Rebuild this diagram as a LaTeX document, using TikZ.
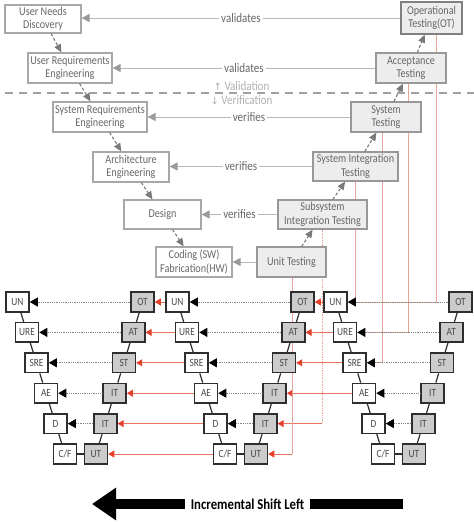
\documentclass[tikz,border=0pt]{standalone}
\usepackage{fontspec}
\setmainfont{Carlito}[FakeStretch=0.85]
\newfontfamily\dejavu{DejaVu Sans}
\usetikzlibrary{arrows.meta,calc,backgrounds}
\definecolor{tgray}{HTML}{686868}
\definecolor{devborder}{HTML}{A8A8A8}
\definecolor{testfill}{HTML}{EDEDED}
\definecolor{testborder}{HTML}{989898}
\definecolor{lgray}{HTML}{B8B8B8}
\definecolor{agray}{HTML}{9A9A9A}
\definecolor{dgray}{HTML}{7A7A7A}
\definecolor{vlabel}{HTML}{B0B0B0}
\definecolor{sepgray}{HTML}{A0A0A0}
\definecolor{darkc}{HTML}{2E2E2E}
\definecolor{darktext}{HTML}{4A4A4A}
\definecolor{stestfill}{HTML}{CCCCCC}
\definecolor{midgray}{HTML}{858585}
\definecolor{redline}{HTML}{E8735F}
\definecolor{redtip}{HTML}{E5402A}
\definecolor{redv}{HTML}{E8A496}
\begin{document}
\begin{tikzpicture}[x=1pt,y=-1pt,
  devbox/.style={draw=devborder, fill=white, line width=1.2pt, text=tgray, align=center,
    inner sep=0pt, font=\fontsize{12}{13.3}\selectfont},
  testbox/.style={devbox, fill=testfill, draw=testborder},
  sbox/.style={draw=darkc, line width=1.6pt, fill=white, minimum width=23pt, minimum height=19.5pt,
    inner sep=0pt, text=darktext, font=\fontsize{11}{11}\selectfont},
  stest/.style={sbox, fill=stestfill},
  toparr/.style={draw=lgray, line width=0.9pt, -{Triangle[length=8pt,width=8pt,color=agray]}},
  lbl/.style={fill=white, text=tgray, font=\fontsize{13}{14}\selectfont, inner sep=2pt},
  diag/.style={draw=dgray, line width=1.1pt, dash pattern=on 3pt off 2pt, -{Triangle[length=8pt,width=7pt,color=dgray]}},
  ingray/.style={draw=midgray, line width=0.8pt, densely dotted, -{Triangle[length=8pt,width=9pt,color=black]}},
  redarr/.style={draw=redline, line width=0.8pt, -{Triangle[length=6pt,width=7pt,color=redtip]}},
  redvl/.style={draw=redv, line width=0.75pt},
  colline/.style={draw=darkc, line width=1.2pt},
  sepline/.style={draw=sepgray, line width=1.3pt, dash pattern=on 8pt off 6pt},
  vtext/.style={text=vlabel, font=\fontsize{13}{14}\selectfont, inner sep=0pt}
]
\useasboundingbox (0,0) rectangle (474,523);

% ---------- top V ----------
\node[devbox, minimum width=76pt, minimum height=28pt] (und) at (43,19) {User Needs\\Discovery};
\node[devbox, minimum width=84pt, minimum height=30pt] (ure) at (70,68) {User Requirements\\Engineering};
\node[devbox, minimum width=94pt, minimum height=30pt] (sre) at (100,117) {System Requirements\\Engineering};
\node[devbox, minimum width=76pt, minimum height=30pt] (arch) at (131,167) {Architecture\\Engineering};
\node[devbox, minimum width=77pt, minimum height=29pt] (des) at (162.5,214.5) {Design};
\node[devbox, minimum width=76pt, minimum height=30pt] (cod) at (194,262) {Coding (SW)\\Fabrication(HW)};

\node[testbox, draw=gray, minimum width=61pt, minimum height=32pt] (opt) at (431.5,18) {Operational\\Testing(OT)};
\node[testbox, minimum width=70pt, minimum height=30pt] (acc) at (411,68) {Acceptance\\Testing};
\node[testbox, minimum width=70pt, minimum height=30pt] (syst) at (386,117) {System\\Testing};
\node[testbox, minimum width=85pt, minimum height=29pt] (sit) at (355.5,166.5) {System Integration\\Testing};
\node[testbox, minimum width=89pt, minimum height=29pt] (ssit) at (322.5,214.5) {Subsystem\\Integration Testing};
\node[testbox, minimum width=69pt, minimum height=30pt] (unit) at (291.5,262) {Unit Testing};

\draw[diag] (und) -- (ure);
\draw[diag] (ure) -- (sre);
\draw[diag] (sre) -- (arch);
\draw[diag] (arch) -- (des);
\draw[diag] (des) -- (cod);
\draw[diag] (unit) -- (ssit);
\draw[diag] (ssit) -- (sit);
\draw[diag] (sit) -- (syst);
\draw[diag] (syst) -- (acc);
\draw[diag] (acc) -- (opt);

\draw[toparr] (opt.west) -- node[lbl]{validates} (opt.west -| und.east);
\draw[toparr] (acc.west) -- node[lbl]{validates} (acc.west -| ure.east);
\draw[toparr] (syst.west) -- node[lbl]{verifies} (syst.west -| sre.east);
\draw[toparr] (sit.west) -- node[lbl]{verifies} (sit.west -| arch.east);
\draw[toparr] (ssit.west) -- node[lbl]{verifies} (ssit.west -| des.east);
\draw[toparr] (unit.west) -- (unit.west -| cod.east);

\coordinate (sepL) at (5,93);
\coordinate (sepR) at (474,93);
\draw[sepline] (sepL) -- (sepR);
\node[vtext] (valt) at (241.5,86) {{\dejavu\fontsize{10}{12}\selectfont ↑} Validation};
\node[vtext] (vert) at (241.5,100.5) {{\dejavu\fontsize{10}{12}\selectfont ↓} Verification};

% ---------- bottom Vs ----------
\foreach \k/\dx in {1/0,2/160,3/318}{
  \foreach \i/\t in {0/UN,1/URE,2/SRE,3/AE,4/D,5/{C/F}}{
    \node[sbox] (l\k-\i) at ({17.5+9.5*\i+\dx},{302+30.4*\i}) {\t};
  }
  \foreach \i/\t in {0/OT,1/AT,2/ST,3/IT,4/IT,5/UT}{
    \node[stest] (r\k-\i) at ({142.5-9.3*\i+\dx},{302+30.4*\i}) {\t};
  }
  \foreach \i [evaluate=\i as \j using int(\i+1)] in {0,...,4}{
    \draw[colline] (l\k-\i) -- (l\k-\j);
    \draw[colline] (r\k-\i) -- (r\k-\j);
    \draw[ingray] (r\k-\i.west) -- (l\k-\i.east);
  }
  \draw[colline] (l\k-5) -- (r\k-5);
}

\coordinate (xa) at (436,0);
\coordinate (xb) at (408,0);
\coordinate (xc) at (382,0);
\coordinate (xd) at (355,0);
\coordinate (xe) at (322,0);
\coordinate (xf) at (292,0);

\begin{scope}[on background layer]
  \foreach \i in {0,...,5}{
    \draw[redarr] (l2-\i.west) -- (r1-\i.east);
  }
  \foreach \i in {0,...,3}{
    \draw[redarr] (l3-\i.west) -- (r2-\i.east);
  }
  \draw[redvl] (opt.south -| xa) |- (l3-0.east);
  \draw[redvl] (acc.south -| xb) |- (l3-1.east);
  \draw[redvl] (syst.south -| xc) |- (l3-2.east);
  \draw[redvl] (sit.south -| xd) -- (l3-0.east -| xd);
  \draw[redvl, densely dotted] (ssit.south -| xe) -- (r2-4.east -| xe);
  \draw[redarr] (r2-4.east -| xe) -- (r2-4.east);
  \draw[redvl] (unit.south -| xf) -- (r2-5.east -| xf);
  \draw[redarr] (r2-5.east -| xf) -- (r2-5.east);
\end{scope}

% ---------- big arrow ----------
\coordinate (bigR) at (403,504);
\coordinate (bigL) at (92,504);
\draw[line width=10pt, -{Triangle[length=24pt,width=31pt]}] (bigR) -- (bigL);
\node[fill=white, inner sep=0pt, minimum width=125pt, minimum height=16pt,
  font=\bfseries\fontsize{15}{16}\selectfont] (isl) at (247.5,504) {Incremental Shift Left};
\end{tikzpicture}
\end{document}
